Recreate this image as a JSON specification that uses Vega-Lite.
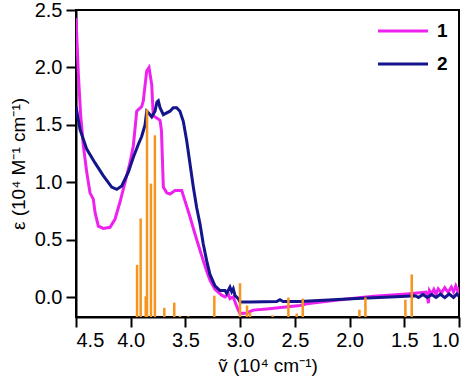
{
  "$schema": "https://vega.github.io/schema/vega-lite/v6.json",
  "width": 383,
  "height": 307,
  "autosize": {"type": "none"},
  "padding": {"left": 76, "top": 10, "right": 15, "bottom": 69},
  "background": "white",
  "config": {
    "font": "Liberation Sans",
    "view": {"stroke": "black", "strokeWidth": 2},
    "axis": {
      "domainColor": "black", "domainWidth": 2, "tickColor": "black", "tickWidth": 2,
      "grid": false, "labelFont": "Liberation Sans", "labelFontSize": 20, "labelColor": "black",
      "titleFont": "Liberation Sans", "titleFontSize": 19, "titleFontWeight": "normal", "titleColor": "black"
    }
  },
  "datasets": {
    "spectra": [
      {"s": "1", "x": 4.5, "y": 2.43},
      {"s": "1", "x": 4.479, "y": 1.95},
      {"s": "1", "x": 4.457, "y": 1.58},
      {"s": "1", "x": 4.433, "y": 1.32},
      {"s": "1", "x": 4.402, "y": 1.09},
      {"s": "1", "x": 4.372, "y": 0.91},
      {"s": "1", "x": 4.342, "y": 0.855},
      {"s": "1", "x": 4.326, "y": 0.74},
      {"s": "1", "x": 4.296, "y": 0.62},
      {"s": "1", "x": 4.251, "y": 0.6},
      {"s": "1", "x": 4.189, "y": 0.61},
      {"s": "1", "x": 4.144, "y": 0.68},
      {"s": "1", "x": 4.098, "y": 0.83},
      {"s": "1", "x": 4.052, "y": 1.0},
      {"s": "1", "x": 4.007, "y": 1.17},
      {"s": "1", "x": 3.976, "y": 1.32},
      {"s": "1", "x": 3.945, "y": 1.62},
      {"s": "1", "x": 3.9, "y": 1.66},
      {"s": "1", "x": 3.885, "y": 1.71},
      {"s": "1", "x": 3.854, "y": 1.97},
      {"s": "1", "x": 3.833, "y": 2.0},
      {"s": "1", "x": 3.808, "y": 1.85},
      {"s": "1", "x": 3.794, "y": 1.58},
      {"s": "1", "x": 3.763, "y": 1.56},
      {"s": "1", "x": 3.732, "y": 1.54},
      {"s": "1", "x": 3.719, "y": 1.45},
      {"s": "1", "x": 3.702, "y": 0.96},
      {"s": "1", "x": 3.671, "y": 0.91},
      {"s": "1", "x": 3.641, "y": 0.9},
      {"s": "1", "x": 3.595, "y": 0.93},
      {"s": "1", "x": 3.534, "y": 0.93},
      {"s": "1", "x": 3.504, "y": 0.84},
      {"s": "1", "x": 3.458, "y": 0.7},
      {"s": "1", "x": 3.412, "y": 0.55},
      {"s": "1", "x": 3.367, "y": 0.41},
      {"s": "1", "x": 3.337, "y": 0.32},
      {"s": "1", "x": 3.306, "y": 0.23},
      {"s": "1", "x": 3.276, "y": 0.15},
      {"s": "1", "x": 3.23, "y": 0.07},
      {"s": "1", "x": 3.169, "y": 0.02},
      {"s": "1", "x": 3.138, "y": 0.005},
      {"s": "1", "x": 3.108, "y": 0.03},
      {"s": "1", "x": 3.093, "y": -0.01},
      {"s": "1", "x": 3.063, "y": 0.005},
      {"s": "1", "x": 3.047, "y": -0.04},
      {"s": "1", "x": 3.017, "y": -0.11},
      {"s": "1", "x": 3.001, "y": -0.14},
      {"s": "1", "x": 2.94, "y": -0.135},
      {"s": "1", "x": 2.88, "y": -0.11},
      {"s": "1", "x": 2.757, "y": -0.1},
      {"s": "1", "x": 2.606, "y": -0.085},
      {"s": "1", "x": 2.453, "y": -0.07},
      {"s": "1", "x": 2.392, "y": -0.055},
      {"s": "1", "x": 2.087, "y": -0.02},
      {"s": "1", "x": 1.783, "y": 0.01},
      {"s": "1", "x": 1.478, "y": 0.03},
      {"s": "1", "x": 1.36, "y": 0.04},
      {"s": "1", "x": 1.3, "y": 0.046},
      {"s": "1", "x": 1.29, "y": 0.02},
      {"s": "1", "x": 1.28, "y": -0.05},
      {"s": "1", "x": 1.27, "y": 0.06},
      {"s": "1", "x": 1.25, "y": 0.03},
      {"s": "1", "x": 1.23, "y": 0.07},
      {"s": "1", "x": 1.21, "y": 0.03},
      {"s": "1", "x": 1.19, "y": 0.075},
      {"s": "1", "x": 1.16, "y": 0.04},
      {"s": "1", "x": 1.13, "y": 0.085},
      {"s": "1", "x": 1.1, "y": 0.045},
      {"s": "1", "x": 1.07, "y": 0.09},
      {"s": "1", "x": 1.05, "y": 0.05},
      {"s": "1", "x": 1.03, "y": 0.1},
      {"s": "1", "x": 1.01, "y": 0.05},
      {"s": "1", "x": 1.0, "y": 0.09},
      {"s": "2", "x": 4.5, "y": 1.66},
      {"s": "2", "x": 4.463, "y": 1.46},
      {"s": "2", "x": 4.402, "y": 1.29},
      {"s": "2", "x": 4.326, "y": 1.17},
      {"s": "2", "x": 4.251, "y": 1.06},
      {"s": "2", "x": 4.174, "y": 0.96},
      {"s": "2", "x": 4.128, "y": 0.94},
      {"s": "2", "x": 4.082, "y": 0.97},
      {"s": "2", "x": 4.022, "y": 1.09},
      {"s": "2", "x": 3.976, "y": 1.22},
      {"s": "2", "x": 3.931, "y": 1.33},
      {"s": "2", "x": 3.9, "y": 1.4},
      {"s": "2", "x": 3.869, "y": 1.5},
      {"s": "2", "x": 3.854, "y": 1.62},
      {"s": "2", "x": 3.833, "y": 1.6},
      {"s": "2", "x": 3.808, "y": 1.57},
      {"s": "2", "x": 3.778, "y": 1.62},
      {"s": "2", "x": 3.76, "y": 1.7},
      {"s": "2", "x": 3.748, "y": 1.71},
      {"s": "2", "x": 3.732, "y": 1.65},
      {"s": "2", "x": 3.702, "y": 1.59},
      {"s": "2", "x": 3.641, "y": 1.62},
      {"s": "2", "x": 3.611, "y": 1.65},
      {"s": "2", "x": 3.58, "y": 1.65},
      {"s": "2", "x": 3.55, "y": 1.62},
      {"s": "2", "x": 3.519, "y": 1.53},
      {"s": "2", "x": 3.488, "y": 1.36},
      {"s": "2", "x": 3.458, "y": 1.16},
      {"s": "2", "x": 3.428, "y": 0.96},
      {"s": "2", "x": 3.397, "y": 0.78},
      {"s": "2", "x": 3.367, "y": 0.64},
      {"s": "2", "x": 3.337, "y": 0.465},
      {"s": "2", "x": 3.306, "y": 0.32},
      {"s": "2", "x": 3.276, "y": 0.2},
      {"s": "2", "x": 3.23, "y": 0.1},
      {"s": "2", "x": 3.184, "y": 0.06},
      {"s": "2", "x": 3.138, "y": 0.06},
      {"s": "2", "x": 3.123, "y": 0.035},
      {"s": "2", "x": 3.093, "y": 0.09},
      {"s": "2", "x": 3.077, "y": 0.05},
      {"s": "2", "x": 3.063, "y": 0.075},
      {"s": "2", "x": 3.047, "y": 0.017},
      {"s": "2", "x": 3.017, "y": -0.01},
      {"s": "2", "x": 3.001, "y": -0.04},
      {"s": "2", "x": 2.91, "y": -0.04},
      {"s": "2", "x": 2.666, "y": -0.035},
      {"s": "2", "x": 2.636, "y": -0.02},
      {"s": "2", "x": 2.608, "y": -0.035},
      {"s": "2", "x": 2.453, "y": -0.035},
      {"s": "2", "x": 1.935, "y": -0.01},
      {"s": "2", "x": 1.478, "y": 0.01},
      {"s": "2", "x": 1.4, "y": 0.015},
      {"s": "2", "x": 1.37, "y": 0.0},
      {"s": "2", "x": 1.33, "y": 0.025},
      {"s": "2", "x": 1.29, "y": 0.0},
      {"s": "2", "x": 1.25, "y": 0.025},
      {"s": "2", "x": 1.21, "y": 0.0},
      {"s": "2", "x": 1.17, "y": 0.028},
      {"s": "2", "x": 1.13, "y": -0.002},
      {"s": "2", "x": 1.09, "y": 0.03},
      {"s": "2", "x": 1.05, "y": 0.0},
      {"s": "2", "x": 1.02, "y": 0.03},
      {"s": "2", "x": 1.0, "y": 0.01}
    ],
    "sticks": [
      {"x": 3.942, "h": 0.283},
      {"x": 3.909, "h": 0.687},
      {"x": 3.863, "h": 0.01},
      {"x": 3.851, "h": 1.635},
      {"x": 3.815, "h": 0.99},
      {"x": 3.779, "h": 1.41},
      {"x": 3.693, "h": -0.09},
      {"x": 3.602, "h": -0.045},
      {"x": 3.55, "h": -0.16},
      {"x": 3.474, "h": -0.165},
      {"x": 3.236, "h": 0.015},
      {"x": 3.001, "h": 0.124},
      {"x": 2.937, "h": -0.07},
      {"x": 2.91, "h": -0.13},
      {"x": 2.703, "h": -0.156},
      {"x": 2.559, "h": 0.0},
      {"x": 2.483, "h": -0.14},
      {"x": 2.428, "h": -0.01},
      {"x": 1.91, "h": -0.107},
      {"x": 1.855, "h": 0.0},
      {"x": 1.49, "h": -0.02},
      {"x": 1.432, "h": 0.2}
    ]
  },
  "layer": [
    {
      "data": {"name": "spectra"},
      "mark": {"type": "line", "strokeWidth": 3, "clip": true},
      "encoding": {
        "x": {
          "field": "x", "type": "quantitative",
          "scale": {"domain": [1, 4.5], "reverse": true, "nice": false, "zero": false},
          "axis": {
            "values": [1, 1.25, 1.5, 1.75, 2, 2.25, 2.5, 2.75, 3, 3.25, 3.5, 3.75, 4, 4.25, 4.5],
            "labelExpr": "(datum.value * 2) % 1 == 0 ? format(datum.value, '.1f') : ''",
            "tickSize": {"condition": {"test": "(datum.value * 2) % 1 != 0", "value": 6}, "value": 10},
            "labelPadding": 3, "titlePadding": 6,
            "title": "ṽ (10⁴ cm⁻¹)"
          }
        },
        "y": {
          "field": "y", "type": "quantitative",
          "scale": {"domain": [-0.17, 2.5], "nice": false, "zero": false},
          "axis": {
            "values": [0, 0.5, 1, 1.5, 2, 2.5], "format": ".1f",
            "tickSize": 10, "labelPadding": 4, "titlePadding": 6,
            "title": "ε (10⁴ M⁻¹ cm⁻¹)"
          }
        },
        "color": {
          "field": "s", "type": "nominal",
          "scale": {"domain": ["1", "2"], "range": ["#EE22EE", "#14148C"]},
          "legend": {
            "title": null, "orient": "none", "legendX": 313, "legendY": 7,
            "symbolType": "M-2,0H2", "symbolSize": 625, "symbolStrokeWidth": 3,
            "labelFontSize": 19, "labelFontWeight": "bold", "labelColor": "black",
            "labelOffset": 20, "padding": 0, "rowPadding": 9
          }
        },
        "order": {"field": "x", "sort": "descending"}
      }
    },
    {
      "data": {"name": "sticks"},
      "mark": {"type": "rule", "color": "#F7941D", "strokeWidth": 2.5},
      "encoding": {
        "x": {"field": "x", "type": "quantitative"},
        "y": {"field": "h", "type": "quantitative"},
        "y2": {"datum": -0.17}
      }
    }
  ]
}
